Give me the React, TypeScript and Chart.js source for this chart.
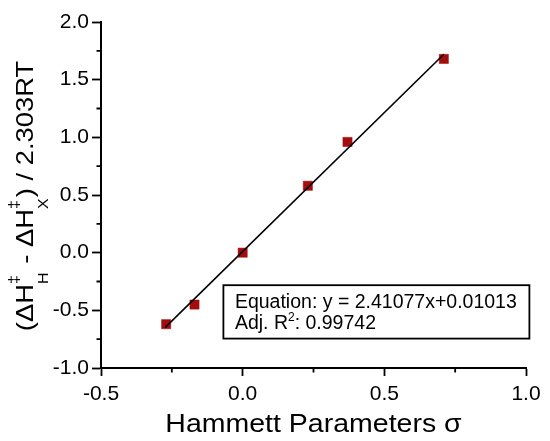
import React, { useEffect, useRef } from 'react';
import { Chart, registerables } from 'chart.js';

Chart.register(...registerables);

// ---- data ----
const sigmaValues = [-0.27, -0.17, 0.0, 0.23, 0.37, 0.71];
const enthalpyValues = [-0.62, -0.45, 0.0, 0.58, 0.96, 1.68];
const fitLineX = [-0.274, 0.71];
const fitLineY = [-0.65, 1.72];
const xTickLabels = ['-0.5', '0.0', '0.5', '1.0'];
const yTickLabels = ['-1.0', '-0.5', '0.0', '0.5', '1.0', '1.5', '2.0'];
const xMinorTicks = [-0.25, 0.25, 0.75];
const yMinorTicks = [-0.75, -0.25, 0.25, 0.75, 1.25, 1.75];
const equationLine = 'Equation: y = 2.41077x+0.01013';
const r2Prefix = 'Adj. R';
const r2Sup = '2';
const r2Suffix = ': 0.99742';
const xTitle = 'Hammett Parameters σ';
const yTitleSegments = [
  { t: '(' }, { t: 'Δ' }, { t: 'H' }, { sup: '‡', sub: 'H' },
  { t: ' - ' }, { t: 'Δ' }, { t: 'H' }, { sup: '‡', sub: 'X' },
  { t: ') / 2.303RT' },
];

const FONT = '"Liberation Sans", Arial, sans-serif';

const decorPlugin = {
  id: 'decor',
  afterDraw(chart: any) {
    const ctx = chart.ctx as CanvasRenderingContext2D;
    const xs = chart.scales.x;
    const ys = chart.scales.y;
    const area = chart.chartArea;
    ctx.save();
    ctx.strokeStyle = '#000';
    ctx.fillStyle = '#000';

    // minor ticks
    ctx.lineWidth = 1.8;
    ctx.beginPath();
    xMinorTicks.forEach((v) => {
      const px = xs.getPixelForValue(v);
      ctx.moveTo(px, area.bottom);
      ctx.lineTo(px, area.bottom + 4.5);
    });
    yMinorTicks.forEach((v) => {
      const py = ys.getPixelForValue(v);
      ctx.moveTo(area.left, py);
      ctx.lineTo(area.left - 4.5, py);
    });
    ctx.stroke();

    // fit info box
    const bx0 = xs.getPixelForValue(-0.068);
    const bx1 = xs.getPixelForValue(1.012);
    const by0 = ys.getPixelForValue(-0.282);
    const by1 = ys.getPixelForValue(-0.745);
    ctx.fillStyle = '#fff';
    ctx.fillRect(bx0, by0, bx1 - bx0, by1 - by0);
    ctx.lineWidth = 1.8;
    ctx.strokeRect(bx0, by0, bx1 - bx0, by1 - by0);
    ctx.fillStyle = '#000';
    ctx.textBaseline = 'alphabetic';
    ctx.textAlign = 'left';
    ctx.font = `19.5px ${FONT}`;
    const tx = bx0 + 11.5;
    const row1 = by0 + 22.7;
    const row2 = row1 + 20.7;
    ctx.fillText(equationLine, tx, row1);
    ctx.fillText(r2Prefix, tx, row2);
    const w = ctx.measureText(r2Prefix).width;
    ctx.font = `12px ${FONT}`;
    ctx.fillText(r2Sup, tx + w, row2 - 8);
    const ws = ctx.measureText(r2Sup).width;
    ctx.font = `19.5px ${FONT}`;
    ctx.fillText(r2Suffix, tx + w + ws, row2);

    // x title
    ctx.save();
    ctx.font = `25px ${FONT}`;
    ctx.textAlign = 'center';
    ctx.translate((area.left + area.right) / 2, 432);
    ctx.scale(1.14, 1);
    ctx.fillText(xTitle, 0, 0);
    ctx.restore();

    // y title (rotated, with super/subscripts)
    ctx.save();
    const mainFont = `24px ${FONT}`;
    const smallFont = `14px ${FONT}`;
    const stretch = 1.14;
    let total = 0;
    const widths: number[] = [];
    yTitleSegments.forEach((s: any) => {
      if (s.t !== undefined) {
        ctx.font = mainFont;
        widths.push(ctx.measureText(s.t).width);
      } else {
        ctx.font = smallFont;
        widths.push(Math.max(ctx.measureText(s.sup).width, ctx.measureText(s.sub).width) + 1);
      }
      total += widths[widths.length - 1];
    });
    ctx.translate(32.5, (area.top + area.bottom) / 2 + 1);
    ctx.rotate(-Math.PI / 2);
    ctx.scale(stretch, 1);
    let cx = -total / 2;
    ctx.textAlign = 'left';
    yTitleSegments.forEach((s: any, i: number) => {
      if (s.t !== undefined) {
        ctx.font = mainFont;
        ctx.fillText(s.t, cx, 0);
      } else {
        ctx.font = smallFont;
        ctx.fillText(s.sup, cx, -14);
        ctx.fillText(s.sub, cx, 15.5);
      }
      cx += widths[i];
    });
    ctx.restore();

    ctx.restore();
  },
};

export default function App() {
  const canvasRef = useRef<HTMLCanvasElement>(null);

  useEffect(() => {
    const canvas = canvasRef.current;
    if (!canvas) return;
    const scatterData = sigmaValues.map((x, i) => ({ x, y: enthalpyValues[i] }));
    const lineData = fitLineX.map((x, i) => ({ x, y: fitLineY[i] }));

    const chart = new Chart(canvas, {
      type: 'scatter',
      data: {
        datasets: [
          {
            type: 'line',
            data: lineData,
            borderColor: '#000',
            borderWidth: 1.6,
            pointRadius: 0,
            showLine: true,
            fill: false,
            order: 0,
          } as any,
          {
            type: 'scatter',
            data: scatterData,
            pointStyle: 'rect',
            pointRadius: 6.5,
            backgroundColor: '#A30D0D',
            borderColor: '#A30D0D',
            borderWidth: 0.5,
            order: 1,
          } as any,
        ],
      },
      options: {
        responsive: false,
        animation: false,
        devicePixelRatio: 1,
        layout: { padding: { top: 22, right: 24, left: 0, bottom: 0 } },
        plugins: {
          legend: { display: false },
          tooltip: { enabled: false },
        },
        scales: {
          x: {
            type: 'linear',
            min: -0.5,
            max: 1.0,
            afterFit: (scale: any) => {
              scale.height = 73;
              scale.paddingLeft = 0;
              scale.paddingRight = 0;
            },
            afterBuildTicks: (scale: any) => {
              scale.ticks = xTickLabels.map((l) => ({ value: parseFloat(l) }));
            },
            ticks: {
              callback: (_v: any, i: number) => xTickLabels[i],
              font: { family: FONT, size: 21 },
              color: '#000',
              padding: 6,
              maxRotation: 0,
            },
            grid: {
              display: true,
              drawOnChartArea: false,
              drawTicks: true,
              tickLength: 8,
              tickWidth: 1.8,
              tickColor: '#000',
            },
            border: { display: true, color: '#000', width: 2 },
          },
          y: {
            type: 'linear',
            min: -1.0,
            max: 2.0,
            afterFit: (scale: any) => {
              scale.width = 101;
              scale.paddingTop = 0;
              scale.paddingBottom = 0;
            },
            afterBuildTicks: (scale: any) => {
              scale.ticks = yTickLabels.map((l) => ({ value: parseFloat(l) }));
            },
            ticks: {
              callback: (_v: any, i: number) => yTickLabels[i],
              font: { family: FONT, size: 21 },
              color: '#000',
              padding: 3,
            },
            grid: {
              display: true,
              drawOnChartArea: false,
              drawTicks: true,
              tickLength: 9,
              tickWidth: 1.8,
              tickColor: '#000',
            },
            border: { display: true, color: '#000', width: 2 },
          },
        },
      },
      plugins: [decorPlugin],
    } as any);

    return () => chart.destroy();
  }, []);

  return (
    <div style={{ position: 'absolute', left: 0, top: 0, width: 550, height: 441, background: '#fff' }}>
      <canvas ref={canvasRef} width={550} height={441} />
    </div>
  );
}
